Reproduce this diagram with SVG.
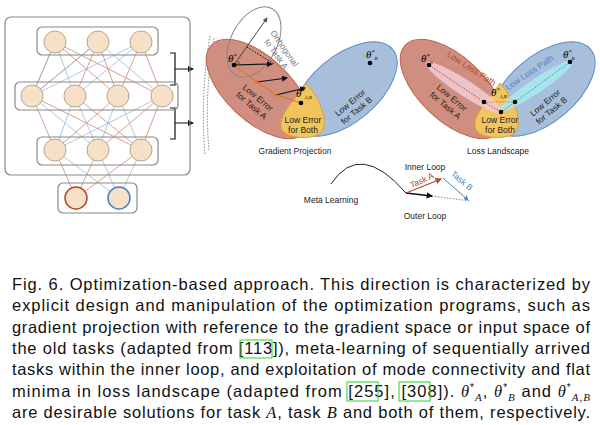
<svg xmlns="http://www.w3.org/2000/svg" width="600" height="425" viewBox="0 0 600 425">
<style>
.box{fill:none;stroke:#888;stroke-width:1.2}
.n{fill:#f7e0c8;stroke:#b7a58f;stroke-width:1}
.r{stroke:#c0785c;stroke-width:0.8;opacity:.85}
.b{stroke:#8eaed0;stroke-width:0.8;opacity:.85}
.t{font-family:"Liberation Sans",Arial,sans-serif;font-size:8.5px;fill:#222;text-anchor:middle}
.c{font-family:"Liberation Sans",Arial,sans-serif;font-size:16.5px;fill:#111}
.m{font-family:"Liberation Serif",serif;font-style:italic}
.dot{fill:#000}
.ref{fill:none;stroke:#2bd12b;stroke-width:1}
.red{fill:#cf8e80;stroke:#c0604a}
.blue{fill:#a8bfdc;stroke:#5b8ac4}
.yel{fill:#f2c45e;stroke:#e0a030}
</style>
<defs>
<marker id="ak" viewBox="0 0 6 6" refX="5" refY="3" markerWidth="5" markerHeight="5" orient="auto"><path d="M0,0L6,3L0,6z" fill="#111"/></marker>
<marker id="ar" viewBox="0 0 6 6" refX="5" refY="3" markerWidth="5" markerHeight="5" orient="auto"><path d="M0,0L6,3L0,6z" fill="#b5472b"/></marker>
<marker id="ab" viewBox="0 0 6 6" refX="5" refY="3" markerWidth="5" markerHeight="5" orient="auto"><path d="M0,0L6,3L0,6z" fill="#4a7fc0"/></marker>
<marker id="ag" viewBox="0 0 6 6" refX="5" refY="3" markerWidth="5" markerHeight="5" orient="auto"><path d="M0,0L6,3L0,6z" fill="#555"/></marker>
<path id="tear" d="M306,83 C297,97 279,114 281,127 C283,140 318,141 323,130 C328,118 318,96 306,83Z"/>
</defs>
<g id="connectors">
<g class="r"><line x1="55" y1="42" x2="32" y2="96"/><line x1="55" y1="42" x2="118" y2="96"/><line x1="55" y1="42" x2="162" y2="96"/><line x1="98" y1="42" x2="75" y2="96"/><line x1="98" y1="42" x2="118" y2="96"/><line x1="141" y1="42" x2="118" y2="96"/><line x1="141" y1="42" x2="162" y2="96"/><line x1="98" y1="42" x2="32" y2="96"/>
<line x1="32" y1="96" x2="55" y2="150"/><line x1="32" y1="96" x2="141" y2="150"/><line x1="75" y1="96" x2="141" y2="150"/><line x1="118" y1="96" x2="55" y2="150"/><line x1="162" y1="96" x2="98" y2="150"/><line x1="162" y1="96" x2="141" y2="150"/>
<line x1="55" y1="150" x2="76" y2="198"/><line x1="98" y1="150" x2="76" y2="198"/><line x1="141" y1="150" x2="76" y2="198"/></g>
<g class="b"><line x1="55" y1="42" x2="75" y2="96"/><line x1="98" y1="42" x2="162" y2="96"/><line x1="141" y1="42" x2="32" y2="96"/><line x1="141" y1="42" x2="75" y2="96"/><line x1="55" y1="42" x2="32" y2="96"/><line x1="98" y1="42" x2="32" y2="96"/>
<line x1="32" y1="96" x2="98" y2="150"/><line x1="75" y1="96" x2="55" y2="150"/><line x1="75" y1="96" x2="98" y2="150"/><line x1="118" y1="96" x2="98" y2="150"/><line x1="118" y1="96" x2="141" y2="150"/><line x1="162" y1="96" x2="55" y2="150"/>
<line x1="55" y1="150" x2="119" y2="198"/><line x1="98" y1="150" x2="119" y2="198"/><line x1="141" y1="150" x2="119" y2="198"/></g>
<path d="M170,53H175V85H170M175,69H193" fill="none" stroke="#111" stroke-width="1.2" marker-end="url(#ak)"/>
<path d="M170,108H175V139H170M175,123H193" fill="none" stroke="#111" stroke-width="1.2" marker-end="url(#ak)"/>
<path d="M210,36Q200,95 205,155" fill="none" stroke="#777" stroke-dasharray="1.5,1.5"/>
<path d="M214,38Q204,95 209,150" fill="none" stroke="#777" stroke-dasharray="1.5,1.5"/>
</g>
<g id="network">
<rect class="box" x="5" y="17" width="185" height="158" rx="6"/>
<rect class="box" x="37" y="27" width="121" height="28" rx="5"/>
<rect class="box" x="15" y="82" width="163" height="28" rx="5"/>
<rect class="box" x="37" y="137" width="121" height="28" rx="5"/>
<rect class="box" x="58" y="183" width="79" height="30" rx="5"/>
<circle class="n" cx="55" cy="42" r="11"/><circle class="n" cx="98" cy="42" r="11"/><circle class="n" cx="141" cy="42" r="11"/>
<circle class="n" cx="32" cy="96" r="11"/><circle class="n" cx="75" cy="96" r="11"/><circle class="n" cx="118" cy="96" r="11"/><circle class="n" cx="162" cy="96" r="11"/>
<circle class="n" cx="55" cy="150" r="11"/><circle class="n" cx="98" cy="150" r="11"/><circle class="n" cx="141" cy="150" r="11"/>
<circle class="n" cx="76" cy="198" r="11" style="stroke:#b5472b;stroke-width:1.5"/><circle class="n" cx="119" cy="198" r="11" style="stroke:#4a7fc0;stroke-width:1.5"/>
</g>
<g id="gradient-projection">
<ellipse class="blue" cx="345" cy="89" rx="62" ry="33" transform="rotate(-40 345 89)"/>
<ellipse class="red" cx="258" cy="89" rx="64" ry="32" transform="rotate(43 258 89)"/>
<use href="#tear" class="yel"/>
<ellipse cx="254" cy="42" rx="23" ry="38" transform="rotate(28 254 42)" fill="none" stroke="#888"/>
<line x1="234" y1="65" x2="267" y2="18" stroke="#444" marker-end="url(#ag)"/>
<line x1="247" y1="47" x2="274" y2="64" stroke="#111" stroke-dasharray="1.5,1.5"/>
<line x1="234" y1="65" x2="272" y2="64" stroke="#111" stroke-width="1.2" marker-end="url(#ak)"/>
<line x1="257" y1="82" x2="287" y2="78" stroke="#111" stroke-width="1.2" marker-end="url(#ak)"/>
<line x1="276" y1="95" x2="305" y2="88" stroke="#111" stroke-width="1.2" marker-end="url(#ak)"/>
<polyline points="234,65 257,82 276,95 301,103" fill="none" stroke="#e07020" stroke-width="1"/>
<circle cx="257" cy="82" r="1.6" fill="#e07020"/><circle cx="276" cy="95" r="1.6" fill="#e07020"/>
<circle class="dot" cx="234" cy="65" r="2.3"/><circle class="dot" cx="301" cy="103" r="2.3"/><circle class="dot" cx="370" cy="63" r="2.3"/>
<text x="228" y="62" class="m" font-size="11">θ<tspan font-size="6" dy="-4">*</tspan><tspan font-size="5" dy="6">A</tspan></text>
<text x="296" y="97" class="m" font-size="11">θ<tspan font-size="6" dy="-4">*</tspan><tspan font-size="5" dy="6">A,B</tspan></text>
<text x="366" y="58" class="m" font-size="11">θ<tspan font-size="6" dy="-4">*</tspan><tspan font-size="5" dy="6">B</tspan></text>
<text class="t" transform="translate(282,50) rotate(55)" style="fill:#777"><tspan x="0" y="0">Orthogonal</tspan><tspan x="0" y="10">to Task A</tspan></text>
<text class="t" transform="translate(256,100) rotate(40)"><tspan x="0" y="0">Low Error</tspan><tspan x="0" y="10">for Task A</tspan></text>
<text class="t"><tspan x="303" y="123">Low Error</tspan><tspan x="303" y="133">for Both</tspan></text>
<text class="t" transform="translate(352,105) rotate(-40)"><tspan x="0" y="0">Low Error</tspan><tspan x="0" y="10">for Task B</tspan></text>
<text class="t" x="295" y="154" font-size="9">Gradient Projection</text>
</g>
<g id="loss-landscape">
<ellipse class="blue" cx="543" cy="89" rx="62" ry="33" transform="rotate(-40 543 89)"/>
<ellipse class="red" cx="452" cy="89" rx="64" ry="32" transform="rotate(43 452 89)"/>
<use href="#tear" class="yel" x="194"/>
<ellipse cx="465" cy="88" rx="46" ry="8" transform="rotate(33 465 88)" fill="#f0c8d0" opacity=".9"/>
<ellipse cx="536" cy="86" rx="44" ry="7" transform="rotate(-34 536 86)" fill="#a8e8ee" opacity=".9"/>
<polyline points="429,65 484,102 501,112" fill="none" stroke="#b5472b" stroke-dasharray="1.5,1.5"/>
<polyline points="570,62 515,102 501,112" fill="none" stroke="#4a7fc0" stroke-dasharray="1.5,1.5"/>
<line x1="484" y1="102" x2="515" y2="102" stroke="#d08020" stroke-dasharray="1.5,1.5"/>
<circle class="dot" cx="429" cy="65" r="2.3"/><circle class="dot" cx="570" cy="62" r="2.3"/><circle class="dot" cx="501" cy="112" r="2.3"/><circle class="dot" cx="484" cy="102" r="2.3"/><circle class="dot" cx="515" cy="102" r="2.3"/>
<text x="421" y="62" class="m" font-size="11">θ<tspan font-size="6" dy="-4">*</tspan><tspan font-size="5" dy="6">A</tspan></text>
<text x="491" y="96" class="m" font-size="11">θ<tspan font-size="6" dy="-4">*</tspan><tspan font-size="5" dy="6">A,B</tspan></text>
<text x="563" y="58" class="m" font-size="11">θ<tspan font-size="6" dy="-4">*</tspan><tspan font-size="5" dy="6">B</tspan></text>
<text class="t" transform="translate(470,71) rotate(33)" style="fill:#b5472b">Low Loss Path</text>
<text class="t" transform="translate(531,75) rotate(-34)" style="fill:#4a7fc0">Low Loss Path</text>
<text class="t" transform="translate(450,100) rotate(40)"><tspan x="0" y="0">Low Error</tspan><tspan x="0" y="10">for Task A</tspan></text>
<text class="t"><tspan x="500" y="123">Low Error</tspan><tspan x="500" y="133">for Both</tspan></text>
<text class="t" transform="translate(547,105) rotate(-40)"><tspan x="0" y="0">Low Error</tspan><tspan x="0" y="10">for Task B</tspan></text>
<text class="t" x="498" y="154" font-size="9">Loss Landscape</text>
</g>
<g id="meta-learning">
<path d="M331,184Q360,140 406,193" fill="none" stroke="#222" stroke-width="1"/>
<line x1="406" y1="193" x2="432" y2="196" stroke="#111" stroke-width="1.3" marker-end="url(#ak)"/>
<line x1="406" y1="193" x2="441" y2="179" stroke="#b5472b" stroke-width="1.3" marker-end="url(#ar)"/>
<line x1="443" y1="178" x2="468" y2="200" stroke="#4a7fc0" stroke-width="1" marker-end="url(#ab)"/>
<line x1="432" y1="196" x2="470" y2="201" stroke="#888" stroke-dasharray="1.5,1.5"/>
<text class="t" x="425" y="170" font-size="9">Inner Loop</text>
<text class="t" x="331" y="203" font-size="9">Meta Learning</text>
<text class="t" x="425" y="219" font-size="9">Outer Loop</text>
<text class="t" transform="translate(423,183) rotate(-25)" style="fill:#b5472b" font-size="7.5">Task A</text>
<text class="t" transform="translate(460,183) rotate(40)" style="fill:#4a7fc0" font-size="7.5">Task B</text>
</g>
<g id="caption">
<text class="c" x="12" y="290" textLength="578" lengthAdjust="spacing">Fig. 6. Optimization-based approach. This direction is characterized by</text>
<text class="c" x="12" y="311" textLength="578" lengthAdjust="spacing">explicit design and manipulation of the optimization programs, such as</text>
<text class="c" x="12" y="333" textLength="578" lengthAdjust="spacing">gradient projection with reference to the gradient space or input space of</text>
<text class="c" x="12" y="354" textLength="578" lengthAdjust="spacing">the old tasks (adapted from [113]), meta-learning of sequentially arrived</text>
<text class="c" x="12" y="375" textLength="578" lengthAdjust="spacing">tasks within the inner loop, and exploitation of mode connectivity and flat</text>
<text class="c" x="12" y="397" textLength="578" lengthAdjust="spacing">minima in loss landscape (adapted from [255], [308]). <tspan class="m">θ</tspan><tspan font-size="10" dy="-6">*</tspan><tspan class="m" font-size="11" dy="10">A</tspan><tspan dy="-4">, </tspan><tspan class="m">θ</tspan><tspan font-size="10" dy="-6">*</tspan><tspan class="m" font-size="11" dy="10">B</tspan><tspan dy="-4"> and </tspan><tspan class="m">θ</tspan><tspan font-size="10" dy="-6">*</tspan><tspan class="m" font-size="11" dy="10">A,B</tspan></text>
<text class="c" x="12" y="418" textLength="578" lengthAdjust="spacing">are desirable solutions for task <tspan class="m">A</tspan>, task <tspan class="m">B</tspan> and both of them, respectively.</text>
<rect class="ref" x="240" y="340" width="32" height="18"/>
<rect class="ref" x="347" y="382" width="31" height="19"/>
<rect class="ref" x="399" y="382" width="31" height="19"/>
</g>
</svg>
